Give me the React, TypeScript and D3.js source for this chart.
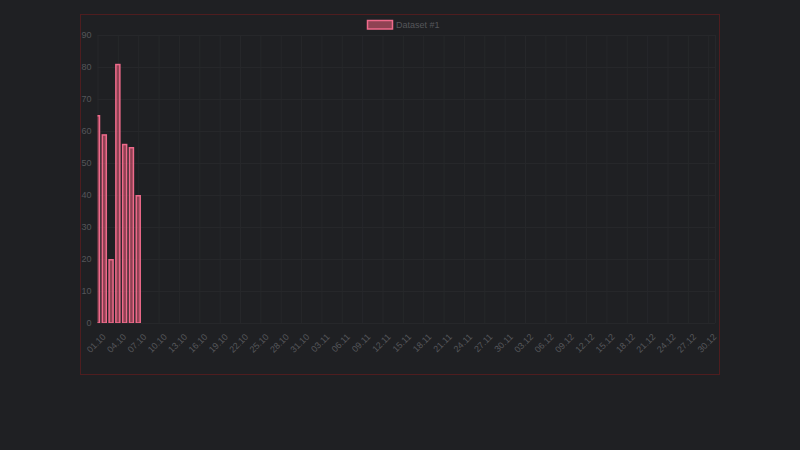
import { useEffect, useRef } from "react";
import * as d3 from "d3";

const YEAR = 2023;
const barDays = ["01.10", "02.10", "03.10", "04.10", "05.10", "06.10", "07.10"];
const barValues = [65, 59, 20, 81, 56, 55, 40];
const tickLabels = [
  "01.10", "04.10", "07.10", "10.10", "13.10", "16.10", "19.10", "22.10", "25.10", "28.10", "31.10",
  "03.11", "06.11", "09.11", "12.11", "15.11", "18.11", "21.11", "24.11", "27.11", "30.11",
  "03.12", "06.12", "09.12", "12.12", "15.12", "18.12", "21.12", "24.12", "27.12", "30.12",
];
const yTicks = [0, 10, 20, 30, 40, 50, 60, 70, 80, 90];
const domainStart = "01.10";
const domainEnd = "31.12";

const BG = "#1f2023";
const GRID = "#26272a";
const TEXT = "#55565a";
const BAR_STROKE = "#ee6a8b";
const BAR_FILL = "rgba(255,99,132,0.5)";
const FONT = "'Liberation Sans', Arial, sans-serif";

const parse = (s: string) => d3.utcParse("%d.%m.%Y")(`${s}.${YEAR}`) as Date;

export default function App() {
  const svgRef = useRef<SVGSVGElement>(null);

  useEffect(() => {
    if (!svgRef.current) return;
    const width = 800;
    const height = 450;
    const area = { left: 97.5, right: 715, top: 35, bottom: 323 };

    const svg = d3.select(svgRef.current);
    svg.selectAll("*").remove();
    svg.attr("width", width).attr("height", height);

    svg.append("rect").attr("width", width).attr("height", height).attr("fill", BG);

    // canvas border
    svg.append("rect")
      .attr("x", 80.5).attr("y", 14.5)
      .attr("width", 639).attr("height", 360)
      .attr("fill", "none")
      .attr("stroke", "#4e1d1f")
      .attr("stroke-width", 1);

    const x = d3.scaleUtc()
      .domain([parse(domainStart), parse(domainEnd)])
      .range([area.left, area.right]);

    const y = d3.scaleLinear()
      .domain([0, 90])
      .range([area.bottom, area.top]);

    const tickDates = tickLabels.map(parse);

    // Grid lines
    svg.append("g")
      .attr("transform", `translate(0,${area.bottom})`)
      .call(d3.axisBottom(x).tickValues(tickDates).tickSize(-(area.bottom - area.top)).tickFormat(() => ""))
      .call(g => g.select(".domain").remove())
      .selectAll("line")
      .attr("stroke", GRID);

    svg.append("g")
      .attr("transform", `translate(${area.left},0)`)
      .call(d3.axisLeft(y).tickValues(yTicks).tickSize(-(area.right - area.left)).tickFormat(() => ""))
      .call(g => g.select(".domain").remove())
      .selectAll("line")
      .attr("stroke", GRID);

    svg.append("line")
      .attr("x1", area.right + 0.5).attr("x2", area.right + 0.5)
      .attr("y1", area.top).attr("y2", area.bottom)
      .attr("stroke", GRID);

    // Bars
    svg.append("defs").append("clipPath").attr("id", "plotClip")
      .append("rect")
      .attr("x", area.left).attr("y", area.top - 5)
      .attr("width", area.right - area.left).attr("height", area.bottom - area.top + 5);

    const dayWidth = x(parse("02.10")) - x(parse("01.10"));
    const barWidth = dayWidth * 0.81;

    svg.append("g")
      .attr("clip-path", "url(#plotClip)")
      .selectAll("rect")
      .data(barDays.map((d, i) => ({ date: parse(d), value: barValues[i] })))
      .join("rect")
      .attr("x", d => x(d.date) - barWidth / 2 + 0.75)
      .attr("y", d => y(d.value) + 0.75)
      .attr("width", barWidth - 1.5)
      .attr("height", d => y(0) - y(d.value) - 0.75)
      .attr("fill", BAR_FILL)
      .attr("stroke", BAR_STROKE)
      .attr("stroke-width", 1.5);

    // Axes labels
    const xAxis = svg.append("g")
      .attr("transform", `translate(0,${area.bottom})`)
      .call(d3.axisBottom(x).tickValues(tickDates).tickSize(0).tickFormat(d => d3.utcFormat("%d.%m")(d as Date)));
    xAxis.select(".domain").remove();
    xAxis.selectAll("text")
      .attr("fill", TEXT)
      .attr("font-size", "9px")
      .attr("font-family", FONT)
      .attr("text-anchor", "end")
      .attr("dy", "0.35em")
      .attr("transform", "translate(4,10) rotate(-45)");

    const yAxis = svg.append("g")
      .attr("transform", `translate(${area.left},0)`)
      .call(d3.axisLeft(y).tickValues(yTicks).tickSize(0).tickPadding(6));
    yAxis.select(".domain").remove();
    yAxis.selectAll("text")
      .attr("fill", TEXT)
      .attr("font-size", "9px")
      .attr("font-family", FONT);

    // Legend
    const legend = svg.append("g");
    legend.append("rect")
      .attr("x", 367.5).attr("y", 20.5)
      .attr("width", 25).attr("height", 8.5)
      .attr("fill", BAR_FILL)
      .attr("stroke", BAR_STROKE)
      .attr("stroke-width", 1.5);
    legend.append("text")
      .attr("x", 396).attr("y", 25)
      .attr("dy", "0.35em")
      .attr("fill", TEXT)
      .attr("font-size", "9px")
      .attr("font-family", FONT)
      .text("Dataset #1");
  }, []);

  return (
    <div style={{ position: "fixed", left: 0, top: 0, width: 800, height: 450, background: BG }}>
      <svg ref={svgRef} style={{ display: "block" }} />
    </div>
  );
}
